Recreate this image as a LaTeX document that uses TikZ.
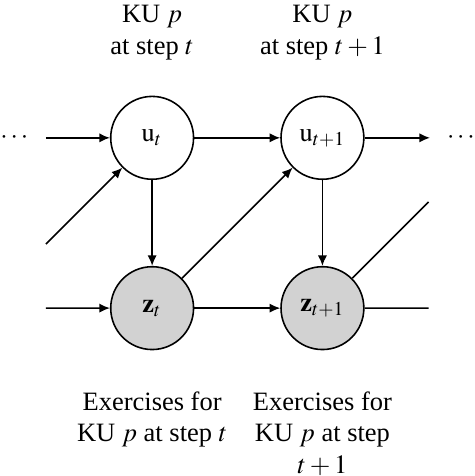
\documentclass[tikz,border=0pt]{standalone}
\usepackage{mathptmx}
\usepackage{fontspec}
\setmainfont{Liberation Serif}
\usetikzlibrary{arrows.meta, positioning}

\begin{document}
\begin{tikzpicture}[
    node distance=1.14cm,
    % Nodos latentes y observados
    latent/.style={
            circle,
            draw,
            semithick,
            minimum size=1.1cm,
            inner sep=0pt,
            fill=white
        },
    observed/.style={
            latent,
            fill=gray!35
        },
    % Etiquetas
    toplabel/.style={
            align=center,
            inner sep=2pt
        },
    botlabel/.style={
            align=center,
            inner sep=2pt
        },
    % Flechas
    arrow/.style={
    -{Latex[length=4pt,width=3.5pt]},
    semithick
    },
    plain/.style={
    semithick
    }
    ]

    \useasboundingbox (-2.02,1.83) rectangle (4.28,-4.49);

    % ========== NODOS ==========
    \node[latent] (ut) at (0,0) {$\mathrm{u}_t$};
    \node[latent, right=of ut] (ut1) {$\mathrm{u}_{t+1}$};
    \node[observed, below=of ut] (zt) {$\mathbf{z}_t$};
    \node[observed, below=of ut1] (zt1) {$\mathbf{z}_{t+1}$};

    % ========== ETIQUETAS ==========
    \node[toplabel, above=0.4cm of ut] (labut) {KU $p$\\at step $t$};
    \node[toplabel, above=0.4cm of ut1] (labut1) {KU $p$\\at step $t+1$};
    \node[botlabel, below=0.47cm of zt] (labzt) {Exercises for\\KU $p$ at step $t$};
    \node[botlabel, below=0.47cm of zt1] (labzt1) {Exercises for\\KU $p$ at step\\$t+1$};

    % ========== EXTREMOS LIBRES ==========
    \coordinate (inU) at (-1.41,0);
    \coordinate (outU) at (3.69,0);
    \coordinate (inD) at (-1.41,-1.41);
    \coordinate (outD) at (3.67,-0.85);
    \coordinate (inZ) at (-1.41,-2.26);
    \coordinate (outZ) at (3.67,-2.26);
    \node (dotsL) at (-1.83,0) {$\cdots$};
    \node (dotsR) at (4.10,0) {$\cdots$};

    % ========== FLECHAS ==========
    \draw[arrow] (inU) -- (ut);
    \draw[arrow] (ut) -- (ut1);
    \draw[arrow] (ut1) -- (outU);

    \draw[arrow] (inZ) -- (zt);
    \draw[arrow] (zt) -- (zt1);
    \draw[plain] (zt1) -- (outZ);

    \draw[arrow] (ut) -- (zt);
    \draw[arrow] (ut1) -- (zt1);

    \draw[arrow] (inD) -- (ut.south west);
    \draw[arrow] (zt.north east) -- (ut1.south west);
    \draw[plain] (zt1.north east) -- (outD);

\end{tikzpicture}
\end{document}
